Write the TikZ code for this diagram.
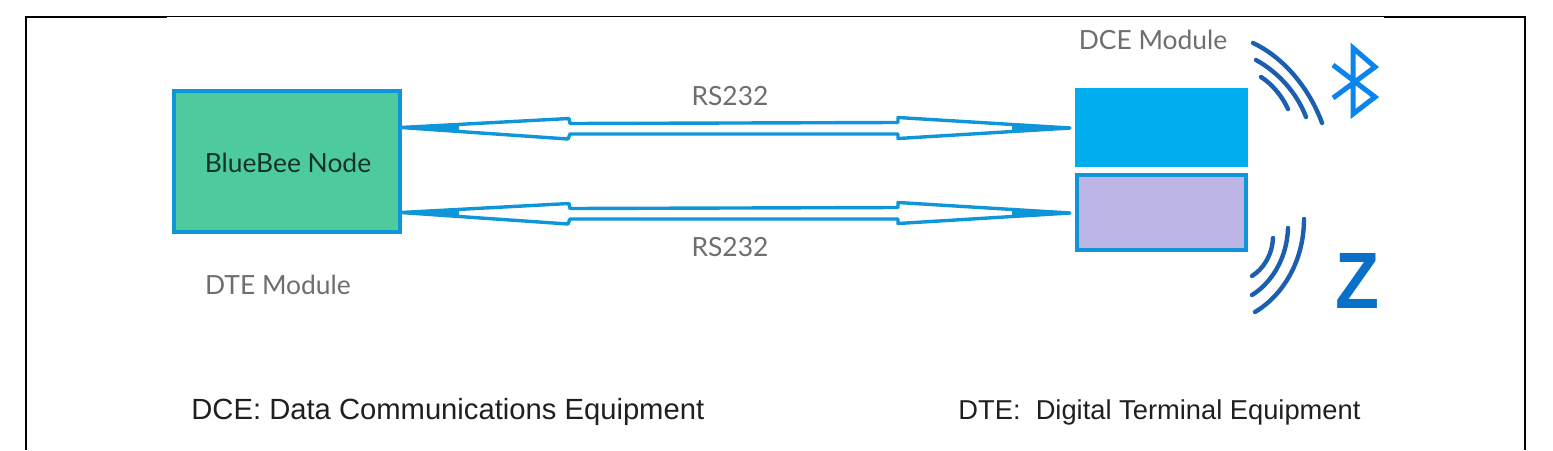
\documentclass[tikz,border=0pt]{standalone}
\usepackage{fontspec}
\setmainfont{Liberation Sans}
\newfontfamily\latofont{Lato}
\usetikzlibrary{calc}
\definecolor{linkblue}{HTML}{0E96D8}
\definecolor{greenfill}{HTML}{4ECB9C}
\definecolor{cyanfill}{HTML}{00AEEF}
\definecolor{lilacfill}{HTML}{BDB5E5}
\definecolor{wave}{HTML}{1B5FAE}
\definecolor{btblue}{HTML}{0A84EE}
\definecolor{zblue}{HTML}{0A6FC8}
\definecolor{labelgrey}{HTML}{6E6E6E}
\tikzset{
  x=0.5pt,y=-0.5pt,
  boxnode/.style={inner sep=0pt,outer sep=0pt,line width=2pt,draw=linkblue},
  greylabel/.style={font=\latofont\fontsize{13.2}{15}\selectfont,text=labelgrey,inner sep=0pt,anchor=base},
  bigarrow/.style={draw=linkblue,line width=1.7pt,line join=round,fill=white},
  wavearc/.style={draw=wave,line width=2.2pt,line cap=round},
  frameline/.style={draw=black,line width=1pt}
}
\newcommand{\blockarrow}[2]{%
  \draw[bigarrow] (#1) -- ++(168,-9) -- ++(1,5) -- ($(#2)+(-172,-5.5)$) -- ++(0,-5)
    -- (#2) -- ++(-172,10.5) -- ++(0,-4.5) -- ($(#1)+(169,6.5)$) -- ++(-2,5) -- cycle;
  \fill[linkblue] (#1) -- ++(58,-3) -- ++(0,6) -- cycle;
  \fill[linkblue] (#2) -- ++(-58,-3) -- ++(0,6) -- cycle;
}
\begin{document}
\begin{tikzpicture}
\useasboundingbox (0,0) rectangle (1553,450);
% frame
\coordinate (fbl) at (25.8,450);
\coordinate (ftl) at (25.8,16.8);
\coordinate (ftr) at (1524.8,16.8);
\coordinate (fbr) at (1524.8,450);
\draw[frameline] (fbl) -- (ftl) -- (167,16.8);
\draw[frameline] (1384,16.8) -- (ftr) -- (fbr);
\draw[draw=black,line width=0.5pt] (167,16.5) -- (1384,16.5);
% boxes
\node[boxnode,fill=greenfill,minimum width=113pt,minimum height=70.5pt] (bb) at (287,161.5) {};
\node[font=\latofont\fontsize{13.2}{15}\selectfont,text=black!75!greenfill,inner sep=0pt,anchor=base] (bbt) at (288,172) {BlueBee Node};
\node[inner sep=0pt,outer sep=0pt,fill=cyanfill,minimum width=86.5pt,minimum height=39.5pt] (dce) at (1161.5,127.5) {};
\node[boxnode,fill=lilacfill,minimum width=84.5pt,minimum height=37.5pt] (pur) at (1161.5,212.5) {};
% arrows
\coordinate (a1s) at (401,127.5);
\coordinate (a1e) at (1070,128);
\coordinate (a2s) at (401,212.5);
\coordinate (a2e) at (1070,213);
\blockarrow{a1s}{a1e}
\blockarrow{a2s}{a2e}
% labels
\node[greylabel] (r1) at (730,105) {RS232};
\node[greylabel] (r2) at (730,256) {RS232};
\node[greylabel] (dtem) at (278,294) {DTE Module};
\node[greylabel] (dcem) at (1153,49) {DCE Module};
\node[font=\fontsize{14.6}{17}\selectfont,text=black!88,inner sep=0pt,anchor=base west] (k1) at (191,419) {DCE: Data Communications Equipment};
\node[font=\fontsize{13.65}{17}\selectfont,text=black!88,inner sep=0pt,anchor=base west] (k2) at (958,419) {DTE:\ \ Digital Terminal Equipment};
% waves, Bluetooth
\draw[wavearc] (1253,43) .. controls (1285,58) and (1310,90) .. (1322,123);
\draw[wavearc] (1256,60) .. controls (1278,72) and (1297,93) .. (1306,117);
\draw[wavearc] (1261,77) .. controls (1272,84) and (1282,96) .. (1288,109);
\draw[btblue,line width=2.5pt,line join=miter] (1333,65) -- (1375,97) -- (1353,114) -- (1353,48) -- (1375,67) -- (1333,98);
% waves, Z
\draw[wavearc] (1255,312) .. controls (1282,296) and (1304,262) .. (1304,219);
\draw[wavearc] (1252,295) .. controls (1270,284) and (1287,260) .. (1288,228);
\draw[wavearc] (1252,276) .. controls (1263,269) and (1272,256) .. (1273,238);
\node[font=\bfseries\fontsize{40}{40}\selectfont,text=zblue,inner sep=0pt,anchor=base,xscale=0.9] (zz) at (1357,308) {Z};
\end{tikzpicture}
\end{document}
